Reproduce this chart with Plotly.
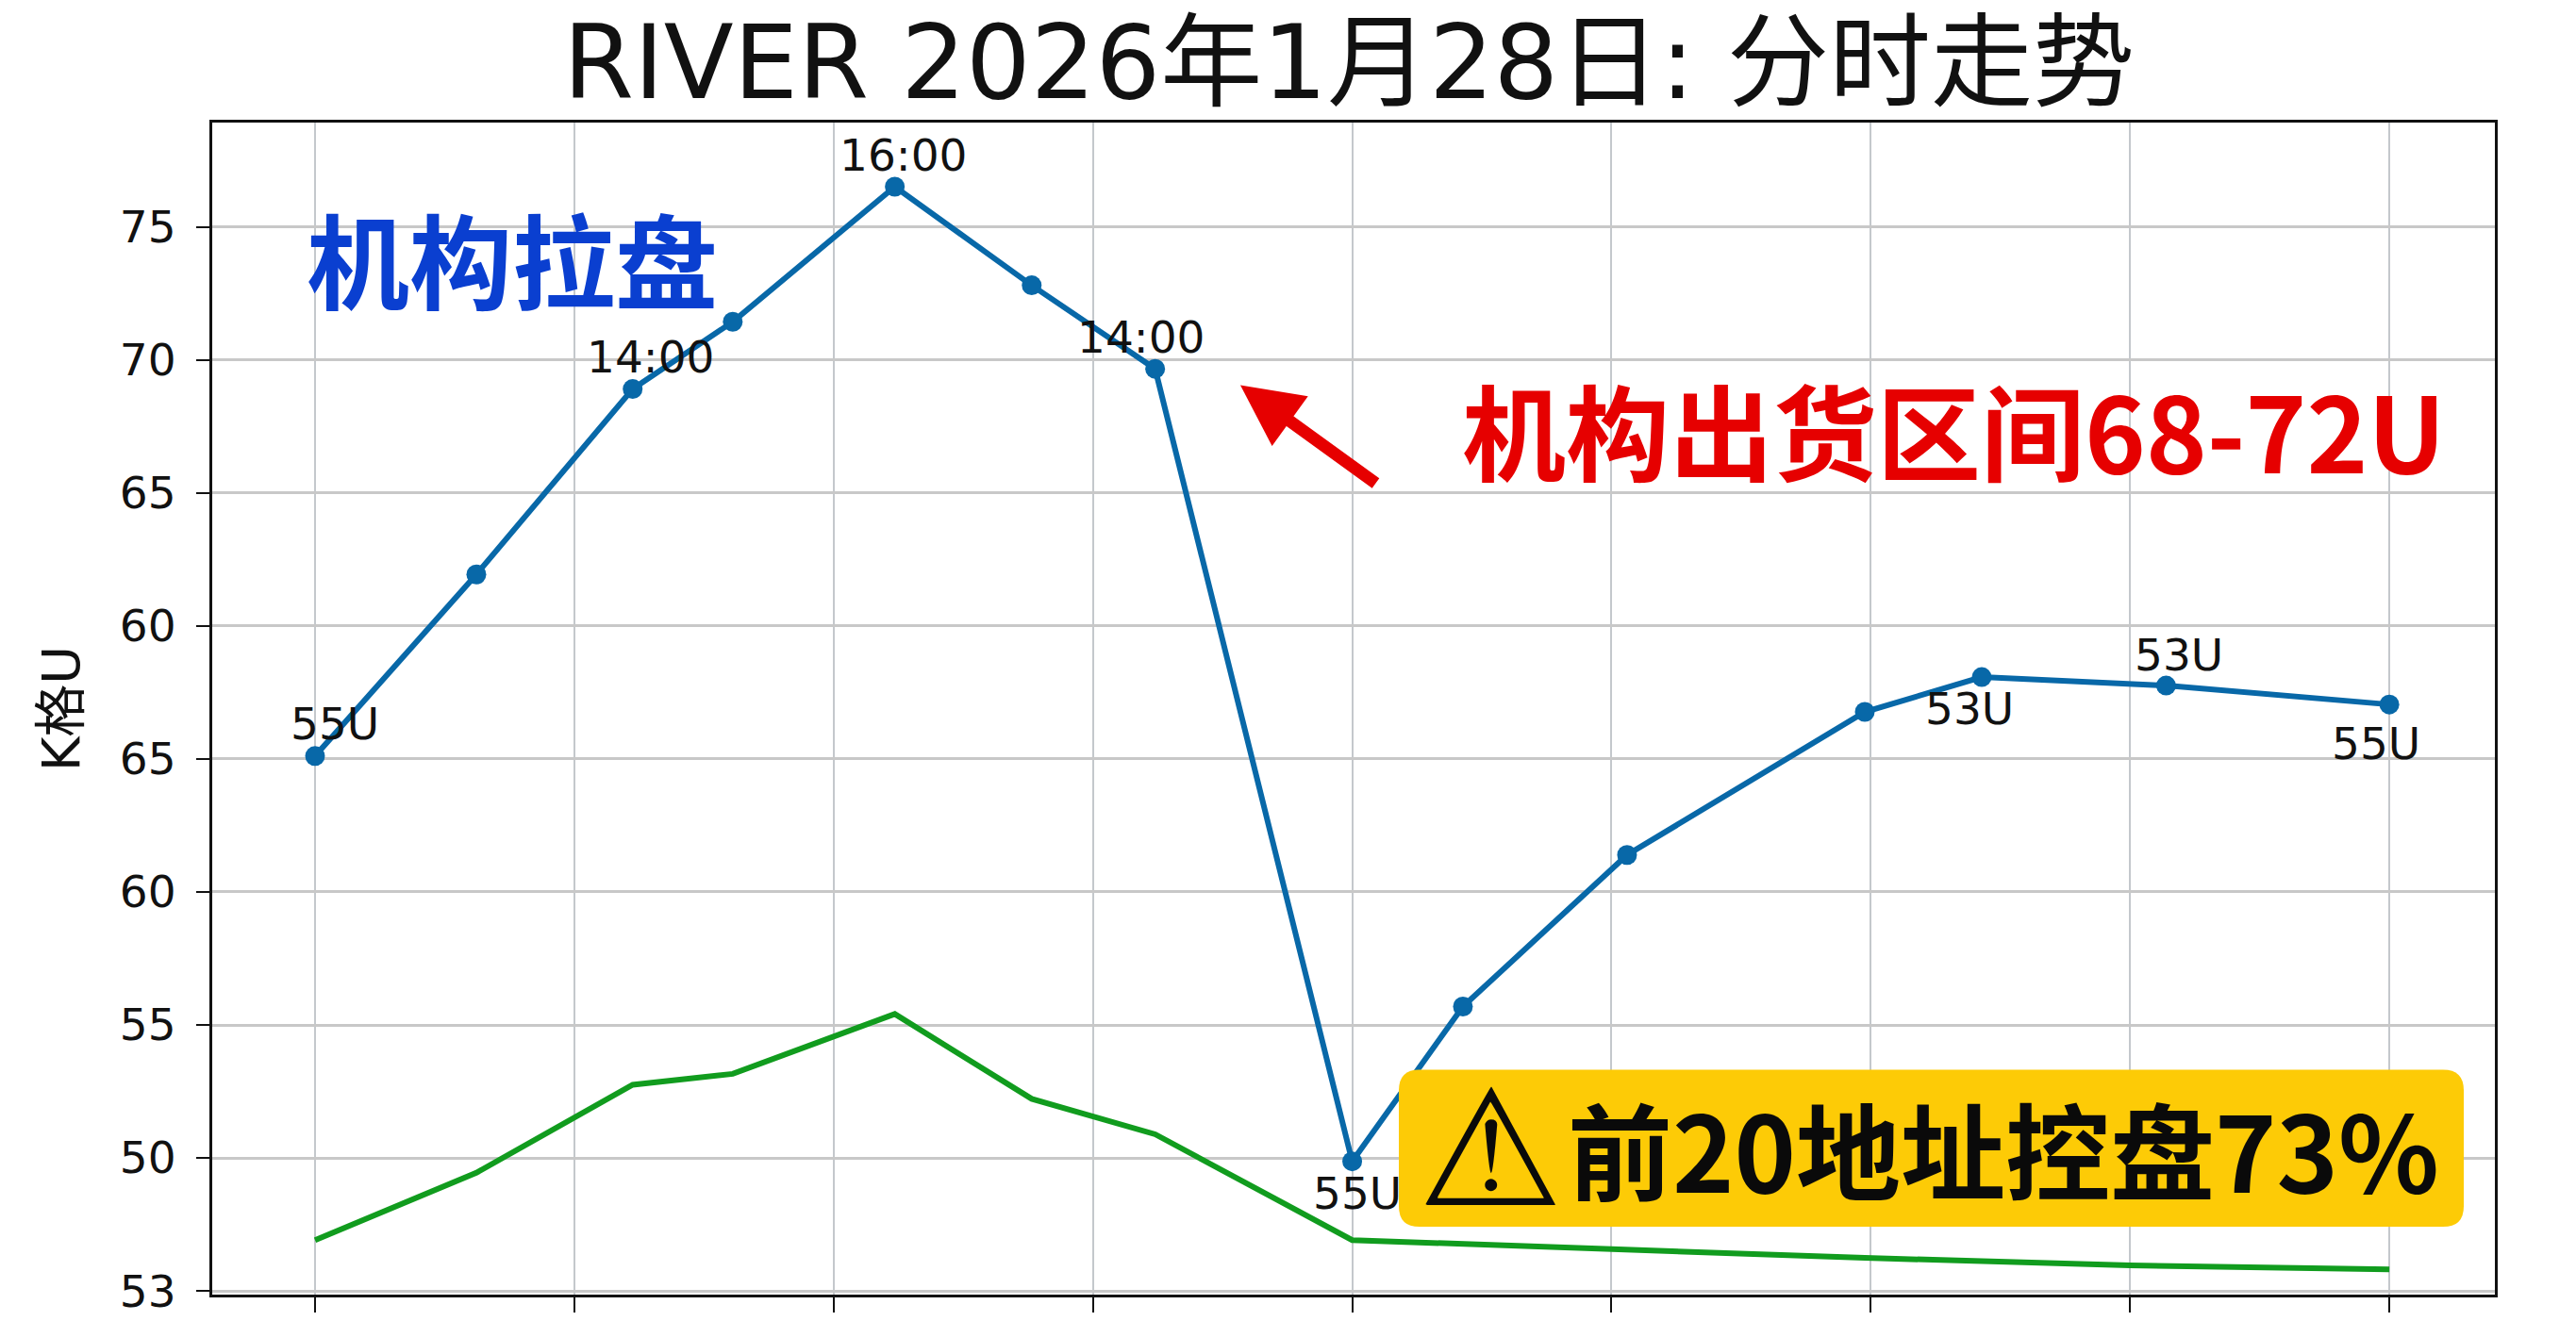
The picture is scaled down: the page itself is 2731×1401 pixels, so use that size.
import plotly.graph_objects as go

# ---- data ----
price_x = [0, 0.622, 1.225, 1.611, 2.236, 2.764, 3.24, 4, 4.427, 5.06, 5.977, 6.428, 7.139, 8]
price_y = [55.11, 61.94, 68.91, 71.44, 76.52, 72.81, 69.67, 39.87, 45.69, 51.39, 56.77, 58.08, 57.76, 57.05]
green_x = [0, 0.622, 1.225, 1.611, 2.236, 2.764, 3.24, 4, 5.977, 7, 8]
green_y = [36.91, 39.44, 42.75, 43.16, 45.41, 42.22, 40.89, 36.91, 36.24, 35.96, 35.81]
x_ticks = [0, 1, 2, 3, 4, 5, 6, 7, 8]
y_ticks = [75, 70, 65, 60, 55, 50, 45, 40, 35]
y_tick_labels = ["75", "70", "65", "60", "65", "60", "55", "50", "53"]
point_labels = [(0, "55U"), (2, "14:00"), (4, "16:00"), (6, "14:00"),
                (7, "55U"), (11, "53U"), (12, "53U"), (13, "55U")]
label_offsets = [(21, 34), (19, 34), (9, 33), (-15, 34), (5, -34), (-13, -33), (14, 33), (-14, -41)]

W, H = 2731, 1401
L, R, T, B = 225, 2645, 130, 1375
CJK = "DejaVu Sans, Noto Sans CJK SC, sans-serif"
BOLD = "Noto Sans CJK SC, sans-serif"


def px(x):
    return (x - L) / (R - L)


def py(y):
    return (B - y) / (B - T)


def round_rect(x0, y0, x1, y1, r):
    return (f"M {px(x0+r)} {py(y0)} L {px(x1-r)} {py(y0)} Q {px(x1)} {py(y0)} {px(x1)} {py(y0+r)} "
            f"L {px(x1)} {py(y1-r)} Q {px(x1)} {py(y1)} {px(x1-r)} {py(y1)} "
            f"L {px(x0+r)} {py(y1)} Q {px(x0)} {py(y1)} {px(x0)} {py(y1-r)} "
            f"L {px(x0)} {py(y0+r)} Q {px(x0)} {py(y0)} {px(x0+r)} {py(y0)} Z")


fig = go.Figure()
fig.add_trace(go.Scatter(x=green_x, y=green_y, mode="lines",
                         line=dict(color="#119c1e", width=6), showlegend=False))
fig.add_trace(go.Scatter(x=price_x, y=price_y, mode="lines+markers",
                         line=dict(color="#0868a8", width=6),
                         marker=dict(color="#0868a8", size=21), showlegend=False))

annotations = []
for (i, text), (dx, dy) in zip(point_labels, label_offsets):
    annotations.append(dict(x=price_x[i], y=price_y[i], xref="x", yref="y", text=text, showarrow=False,
                            xshift=dx, yshift=dy, xanchor="center", yanchor="middle",
                            font=dict(family=CJK, size=47, color="#111111")))


def note(x, y, text, size, color, family=BOLD, bold=True):
    annotations.append(dict(x=px(x), y=py(y), xref="paper", yref="paper", showarrow=False,
                            text=f"<b>{text}</b>" if bold else text, xanchor="center", yanchor="middle",
                            font=dict(family=family, size=size, color=color)))


note(543, 273, "机构拉盘", 109, "#0a3fd0")
note(2071, 455, "机构出货区间68-72U", 110, "#e60000")
note(2124, 1218, "前20地址控盘73%", 111, "#0a0a0a")
note(1580, 1220, "⚠", 172, "#0a0a0a", family="DejaVu Sans", bold=True)
annotations.append(dict(x=px(1315), y=py(409), xref="paper", yref="paper", text="", showarrow=True,
                        ax=145, ay=105, axref="pixel", ayref="pixel", arrowhead=2, arrowsize=1.0,
                        arrowwidth=13, arrowcolor="#e60000"))

fig.update_layout(
    width=W, height=H, autosize=False,
    margin=dict(l=L, r=W - R, t=T, b=H - B),
    paper_bgcolor="white", plot_bgcolor="white",
    title=dict(text="RIVER 2026年1月28日: 分时走势", x=1430 / W, xanchor="center", xref="container",
               y=1 - 66 / H, yanchor="middle", yref="container",
               font=dict(family=CJK, size=108, color="#111111")),
    xaxis=dict(range=[-0.3965, 8.407], tickvals=x_ticks, showticklabels=False, ticks="outside", ticklen=16,
               tickwidth=2, tickcolor="#111111", showgrid=True, gridcolor="#c4c8cc", gridwidth=2,
               showline=True, linecolor="#111111", linewidth=3, mirror=True, zeroline=False),
    yaxis=dict(range=[34.86, 78.93], tickvals=y_ticks, ticktext=y_tick_labels, ticks="outside", ticklen=14,
               tickwidth=2, tickcolor="#111111", showgrid=True, gridcolor="#c8c8c8", gridwidth=3,
               showline=True, linecolor="#111111", linewidth=3, mirror=True, zeroline=False,
               ticklabelstandoff=12,
               tickfont=dict(family=CJK, size=47, color="#111111"), automargin=False,
               title=dict(text="K格U", font=dict(family=CJK, size=56, color="#111111"), standoff=25)),
    annotations=annotations,
    shapes=[dict(type="path", xref="paper", yref="paper", layer="above",
                 path=round_rect(1483, 1136, 2612, 1303, 22), fillcolor="#fdcb06", line=dict(width=0))],
)
fig.write_html("out.html", config={"displayModeBar": False},
               post_script="document.body.style.margin='0';document.body.style.overflow='hidden';")
